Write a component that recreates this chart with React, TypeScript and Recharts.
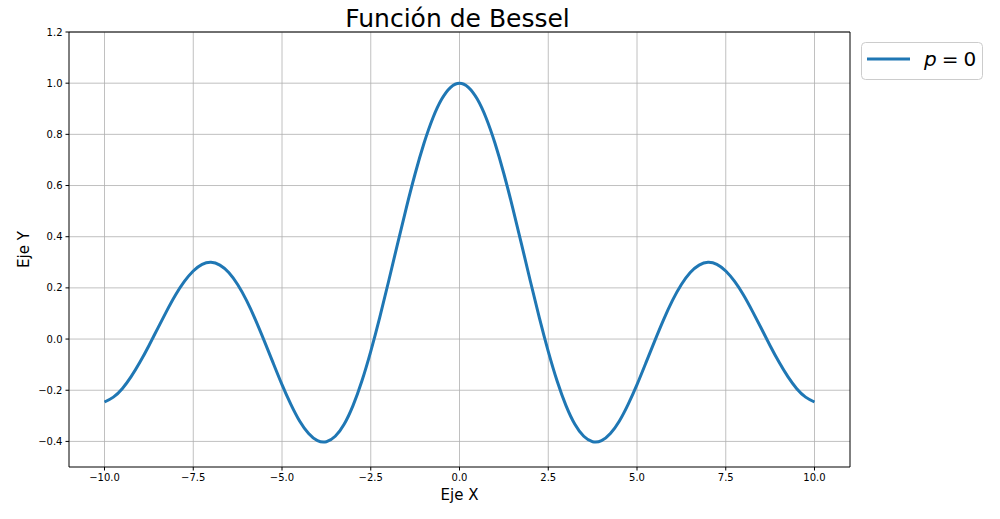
import React from 'react';
import { LineChart, Line, XAxis, YAxis, CartesianGrid, ReferenceLine } from 'recharts';

const xValues = [
  -10, -9.75, -9.5, -9.25, -9, -8.75, -8.5, -8.25, -8, -7.75, -7.5, -7.25, -7, -6.75, -6.5, -6.25,
  -6, -5.75, -5.5, -5.25, -5, -4.75, -4.5, -4.25, -4, -3.75, -3.5, -3.25, -3, -2.75, -2.5, -2.25,
  -2, -1.75, -1.5, -1.25, -1, -0.75, -0.5, -0.25, 0, 0.25, 0.5, 0.75, 1, 1.25, 1.5, 1.75, 2, 2.25,
  2.5, 2.75, 3, 3.25, 3.5, 3.75, 4, 4.25, 4.5, 4.75, 5, 5.25, 5.5, 5.75, 6, 6.25, 6.5, 6.75, 7,
  7.25, 7.5, 7.75, 8, 8.25, 8.5, 8.75, 9, 9.25, 9.5, 9.75, 10,
];

const yValues = [
  -0.246, -0.227, -0.194, -0.147, -0.090, -0.026, 0.042, 0.109, 0.172, 0.225, 0.266, 0.292, 0.300,
  0.289, 0.260, 0.213, 0.151, 0.076, -0.007, -0.093, -0.178, -0.255, -0.321, -0.369, -0.397, -0.401,
  -0.380, -0.333, -0.260, -0.164, -0.048, 0.083, 0.224, 0.369, 0.512, 0.646, 0.765, 0.864, 0.938,
  0.984, 1.0, 0.984, 0.938, 0.864, 0.765, 0.646, 0.512, 0.369, 0.224, 0.083, -0.048, -0.164, -0.260,
  -0.333, -0.380, -0.401, -0.397, -0.369, -0.321, -0.255, -0.178, -0.093, -0.007, 0.076, 0.151,
  0.213, 0.260, 0.289, 0.300, 0.292, 0.266, 0.225, 0.172, 0.109, 0.042, -0.026, -0.090, -0.147,
  -0.194, -0.227, -0.246,
];

const xTicks = [-10, -7.5, -5, -2.5, 0, 2.5, 5, 7.5, 10];
const yTicks = [-0.4, -0.2, 0, 0.2, 0.4, 0.6, 0.8, 1.0, 1.2];

const data = xValues.map((x, i) => ({ x, y: yValues[i] }));

const FONT = 'DejaVu Sans, sans-serif';
const fmt = (v: number) => v.toFixed(1).replace('-', '\u2212');

export default function App() {
  return (
    <div style={{ position: 'absolute', left: 0, top: 0, width: 1000, height: 519, background: '#fff' }}>
      <LineChart
        width={1000}
        height={519}
        data={data}
        margin={{ top: 32, right: 150, bottom: 0, left: 0 }}
        style={{ fontFamily: FONT }}
      >
        <CartesianGrid stroke="#b0b0b0" strokeWidth={0.8} horizontalValues={yTicks} verticalValues={xTicks} />
        <XAxis
          dataKey="x"
          type="number"
          domain={[-11, 11]}
          ticks={xTicks}
          tickFormatter={fmt}
          height={52}
          stroke="#000"
          tickSize={3.5}
          tickMargin={3}
          tick={{ fontSize: 10, fill: '#000', fontFamily: FONT }}
          axisLine={{ stroke: '#000', strokeWidth: 1 }}
          allowDataOverflow
        />
        <YAxis
          type="number"
          domain={[-0.5, 1.2]}
          ticks={yTicks}
          tickFormatter={fmt}
          width={69}
          stroke="#000"
          tickSize={3.5}
          tickMargin={3}
          tick={{ fontSize: 10, fill: '#000', fontFamily: FONT }}
          axisLine={{ stroke: '#000', strokeWidth: 1 }}
          allowDataOverflow
        />
        <ReferenceLine x={11} stroke="#000" strokeWidth={1} />
        <ReferenceLine y={1.2} stroke="#000" strokeWidth={1} />
        <Line
          dataKey="y"
          type="natural"
          stroke="#1f77b4"
          strokeWidth={3}
          dot={false}
          isAnimationActive={false}
        />
        <text x={457.5} y={27} textAnchor="middle" fontFamily={FONT} fontSize={25} fill="#000">
          Función de Bessel
        </text>
        <text x={459.5} y={500} textAnchor="middle" fontFamily={FONT} fontSize={15} fill="#000">
          Eje X
        </text>
        <text
          x={29}
          y={249.5}
          textAnchor="middle"
          fontFamily={FONT}
          fontSize={15}
          fill="#000"
          transform="rotate(-90 29 249.5)"
        >
          Eje Y
        </text>
        <g>
          <rect x={861.5} y={42.5} width={121} height={37} rx={4} ry={4} fill="#fff" stroke="#cccccc" strokeWidth={1} />
          <line x1={867} y1={59} x2={910} y2={59} stroke="#1f77b4" strokeWidth={3} />
          <text x={924} y={66} fontFamily={FONT} fontSize={20} fill="#000">
            <tspan fontStyle="italic">p</tspan>
            <tspan dx={5}>=</tspan>
            <tspan dx={5}>0</tspan>
          </text>
        </g>
      </LineChart>
    </div>
  );
}
